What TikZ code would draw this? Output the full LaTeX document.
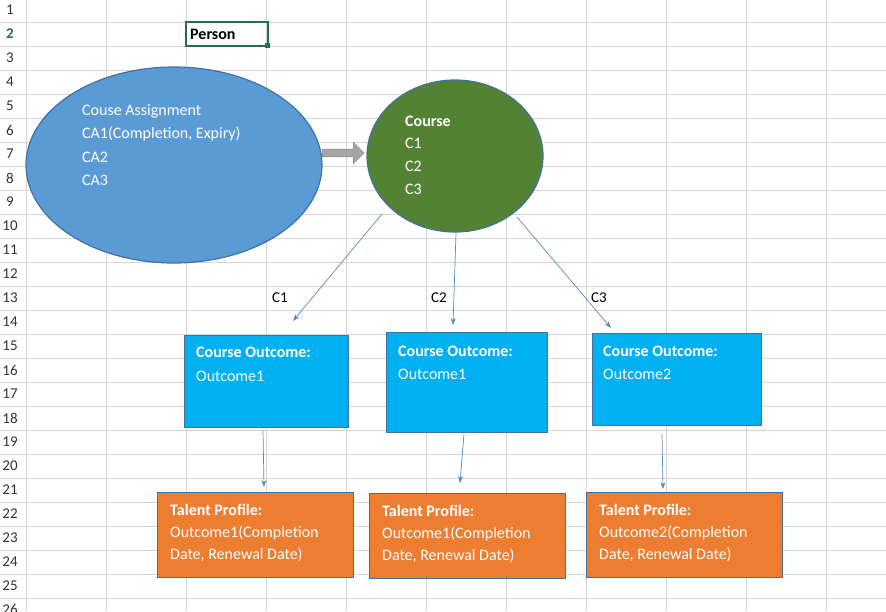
\documentclass[tikz,border=0pt]{standalone}
\usepackage{fontspec}
\setmainfont{Carlito}
\usetikzlibrary{shapes.arrows,shapes.geometric,arrows.meta}
\definecolor{grid}{HTML}{D4D4D4}
\definecolor{ell}{HTML}{5B9BD5}
\definecolor{bord}{HTML}{41719C}
\definecolor{grn}{HTML}{548235}
\definecolor{cyanb}{HTML}{00B0F0}
\definecolor{orng}{HTML}{ED7D31}
\definecolor{xlgreen}{HTML}{217346}
\begin{document}
\begin{tikzpicture}[x=1pt,y=-1pt,
  txt/.style={text=white,font=\fontsize{16}{19}\selectfont,anchor=west,inner sep=0},
  bt/.style={txt,font=\bfseries\fontsize{16}{19}\selectfont},
  bx/.style={draw=bord,line width=1.2pt},
  con/.style={draw=ell!90!black,line width=0.7pt,-{Stealth[length=7pt,width=5pt]}}]
\useasboundingbox (0,0) rectangle (886,611);
\fill[white] (0,0) rectangle (886,611);
% grid
\foreach \x in {26,106,186,266,346,426,506,586,666,746,826} \draw[grid] (\x,0)--(\x,611);
\foreach \k in {0,...,24} \draw[grid] (0,22+24*\k)--(886,22+24*\k);
\foreach \n in {1,...,25} \node[font=\fontsize{15}{17}\selectfont,text=black!80] (r\n) at (10,10+24*\n-24) {\n};
\node[font=\fontsize{15}{17}\selectfont,text=black!80,anchor=north] (r26) at (10,601) {26};
\fill[white] (1,24) rectangle (24,44);
\node[font=\bfseries\fontsize{15}{17}\selectfont,text=xlgreen] at (10,34) {2};
\draw[xlgreen,line width=1.5pt] (186,22) rectangle (268,46);
\fill[xlgreen] (265,43) rectangle (270,48);
\node[font=\bfseries\fontsize{16}{19}\selectfont,anchor=west,inner sep=0] (person) at (190,34) {Person};
% ellipses
\node[ellipse,fill=ell,draw=bord,line width=1.2pt,minimum width=296,minimum height=196] (ca) at (174,165) {};
\node[txt] at (82,111) {Couse Assignment};
\node[txt] at (82,134) {CA1(Completion, Expiry)};
\node[txt] at (82,157) {CA2};
\node[txt] at (82,180) {CA3};
\node[single arrow,fill=black!35,draw=black!50,minimum height=42,minimum width=22,single arrow head extend=4pt,inner sep=2pt,anchor=west] (ar) at (322,153) {};
\node[ellipse,fill=grn,draw=bord,line width=1.2pt,minimum width=176,minimum height=152] (course) at (455,156) {};
\node[bt] at (405,121) {Course};
\node[txt] at (405,143) {C1};
\node[txt] at (405,166) {C2};
\node[txt] at (405,189) {C3};
% labels
\node[font=\fontsize{15}{17}\selectfont] at (280,298) {C1};
\node[font=\fontsize{15}{17}\selectfont] at (439,298) {C2};
\node[font=\fontsize{15}{17}\selectfont] at (599,298) {C3};
% outcome boxes
\node[bx,fill=cyanb,minimum width=164,minimum height=92,anchor=north west] (o1) at (184,335) {};
\node[bx,fill=cyanb,minimum width=161,minimum height=100,anchor=north west] (o2) at (386,332) {};
\node[bx,fill=cyanb,minimum width=169,minimum height=92,anchor=north west] (o3) at (592,333) {};
\node[bt] at (196,352) {Course Outcome:};
\node[txt] at (196,376) {Outcome1};
\node[bt] at (398,351) {Course Outcome:};
\node[txt] at (398,374) {Outcome1};
\node[bt] at (603,351) {Course Outcome:};
\node[txt] at (603,374) {Outcome2};
% talent boxes
\node[bx,fill=orng,minimum width=196,minimum height=85,anchor=north west] (t1) at (157,492) {};
\node[bx,fill=orng,minimum width=196,minimum height=85,anchor=north west] (t2) at (369,493) {};
\node[bx,fill=orng,minimum width=196,minimum height=85,anchor=north west] (t3) at (586,492) {};
\foreach \xx/\yy/\o in {170/510/1,382/511/1,599/510/2}{
  \node[bt] at (\xx,\yy) {Talent Profile:};
  \node[txt] at (\xx,\yy+23) {Outcome\o(Completion};
  \node[txt] at (\xx,\yy+45) {Date, Renewal Date)};
}
% connectors
\coordinate (s1) at (382,214); \coordinate (e1) at (293,321);
\coordinate (s2) at (456,233); \coordinate (e2) at (453,325);
\coordinate (s3) at (517,217); \coordinate (e3) at (611,328);
\draw[con] (s1)--(e1); \draw[con] (s2)--(e2); \draw[con] (s3)--(e3);
\coordinate (a1) at (263,430); \coordinate (b1) at (264,487);
\coordinate (a2) at (464,434); \coordinate (b2) at (460,483);
\coordinate (a3) at (662,434); \coordinate (b3) at (663,489);
\draw[con] (a1)--(b1); \draw[con] (a2)--(b2); \draw[con] (a3)--(b3);
\end{tikzpicture}
\end{document}
